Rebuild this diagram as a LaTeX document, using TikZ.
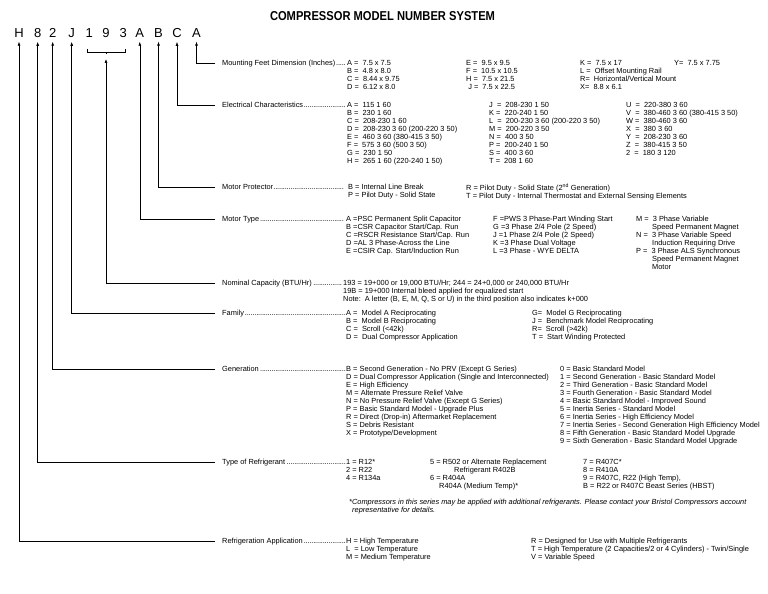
\documentclass[tikz,border=0pt]{standalone}
\usepackage{fontspec}
\setmainfont{Liberation Sans}
\usetikzlibrary{arrows.meta}
\newcommand\mydots{\leaders\hbox to 1.9pt{\hss.\hss}\hfill}
\begin{document}
\begin{tikzpicture}[x=1pt,y=-1pt,
  txt/.style={anchor=north west,yshift=5.6pt,inner sep=0pt,align=left,
    font=\fontsize{7.4}{8}\selectfont,execute at begin node=\strut},
  lab/.style={anchor=base west,inner sep=0pt,font=\fontsize{7.4}{8}\selectfont},
  code/.style={anchor=base,inner sep=0pt,font=\fontsize{13}{13}\selectfont},
  conn/.style={line width=0.6pt,shorten <=7pt,-{Latex[length=4pt,width=3pt]}},
  brace/.style={line width=0.6pt},
  foot/.style={txt,font=\fontsize{7.4}{8}\selectfont\itshape}
]
\useasboundingbox[fill=white] (0,0) rectangle (768,594);

% title
\node[inner sep=0pt] (title) at (382.5,16.5) {\resizebox{225pt}{9pt}{\bfseries COMPRESSOR MODEL NUMBER SYSTEM}};

% code letters
\node[code] (cH) at (19,37.5) {H};
\node[code] (c8) at (37.7,37.5) {8};
\node[code] (c2) at (52.7,37.5) {2};
\node[code] (cJ) at (71.7,37.5) {J};
\node[code] (c1) at (89.3,37.5) {1};
\node[code] (c9) at (106,37.5) {9};
\node[code] (c3) at (123.3,37.5) {3};
\node[code] (cA) at (139.8,37.5) {A};
\node[code] (cB) at (158.5,37.5) {B};
\node[code] (cC) at (177,37.5) {C};
\node[code] (cA2) at (196.5,37.5) {A};

% brace under 1 9 3
\draw[brace] (87,49) -- (87,52.5) -- (125,52.5) -- (125,49);
\draw[brace] (106,52.5) -- (106,54.5);
\coordinate (braceTip) at (106,59);

% ---------- Mounting feet
\node[lab] (labMF) at (222,65.5) {\makebox[124pt][l]{Mounting Feet Dimension (Inches)\mydots}};
\node[txt] (mf1) at (347,65.5) {A =\ \ 7.5 x 7.5\\B =\ \ 4.8 x 8.0\\C =\ \ 8.44 x 9.75\\D =\ \ 6.12 x 8.0};
\node[txt] (mf2) at (466,65.5) {E =\ \ 9.5 x 9.5\\F =\ \ 10.5 x 10.5\\H =\ \ 7.5 x 21.5\\\ J =\ \ 7.5 x 22.5};
\node[txt] (mf3) at (580,65.5) {K =\ \ 7.5 x 17\\L =\ \ Offset Mounting Rail\\R=\ \ Horizontal/Vertical Mount\\X=\ \ 8.8 x 6.1};
\node[txt] (mf4) at (674,65.5) {Y=\ \ 7.5 x 7.75};
\draw[conn] (labMF.west) -| ([yshift=-4pt]cA2.south);

% ---------- Electrical
\node[lab] (labEC) at (222,107.5) {\makebox[124pt][l]{Electrical Characteristics\mydots}};
\node[txt] (ec1) at (347,107.5) {A =\ \ 115 1 60\\B =\ \ 230 1 60\\C =\ \ 208-230 1 60\\D =\ \ 208-230 3 60 (200-220 3 50)\\E =\ \ 460 3 60 (380-415 3 50)\\F =\ \ 575 3 60 (500 3 50)\\G =\ \ 230 1 50\\H =\ \ 265 1 60 (220-240 1 50)};
\node[txt] (ec2) at (489,107.5) {J\ \ =\ \ 208-230 1 50\\K\ =\ \ 220-240 1 50\\L\ \ =\ \ 200-230 3 60 (200-220 3 50)\\M =\ \ 200-220 3 50\\N\ =\ \ 400 3 50\\P\ =\ \ 200-240 1 50\\S\ =\ \ 400 3 60\\T\ =\ \ 208 1 60};
\node[txt] (ec3) at (626,107.5) {U\ \ =\ \ 220-380 3 60\\V\ \ =\ \ 380-460 3 60 (380-415 3 50)\\W\ =\ \ 380-460 3 60\\X\ \ =\ \ 380 3 60\\Y\ \ =\ \ 208-230 3 60\\Z\ \ =\ \ 380-415 3 50\\2\ \ =\ \ 180 3 120};
\draw[conn] (labEC.west) -| ([yshift=-4pt]cC.south);

% ---------- Motor protector
\node[lab] (labMP) at (222,189.5) {\makebox[122pt][l]{Motor Protector\mydots}};
\node[txt] (mp1) at (348,189.5) {B = Internal Line Break\\P = Pilot Duty - Solid State};
\node[txt] (mp2) at (466,189.5) {R = Pilot Duty - Solid State (2\textsuperscript{nd} Generation)\\T = Pilot Duty - Internal Thermostat and External Sensing Elements};
\draw[conn] (labMP.west) -| ([yshift=-4pt]cB.south);

% ---------- Motor type
\node[lab] (labMT) at (222,221.5) {\makebox[123pt][l]{Motor Type\mydots}};
\node[txt] (mt1) at (346,221.5) {A\ =PSC Permanent Split Capacitor\\B\ =CSR Capacitor Start/Cap. Run\\C\ =RSCR Resistance Start/Cap. Run\\D\ =AL 3 Phase-Across the Line\\E\ =CSIR Cap. Start/Induction Run};
\node[txt] (mt2) at (493,221.5) {F\ =PWS 3 Phase-Part Winding Start\\G =3 Phase 2/4 Pole (2 Speed)\\J\ =1 Phase 2/4 Pole (2 Speed)\\K\ =3 Phase Dual Voltage\\L\ =3 Phase - WYE DELTA};
\node[txt] (mt3) at (636,221.5) {M =\ \ 3 Phase Variable\\\hspace*{16pt}Speed Permanent Magnet\\N =\ \ 3 Phase Variable Speed\\\hspace*{16pt}Induction Requiring Drive\\P\ =\ \ 3 Phase ALS Synchronous\\\hspace*{16pt}Speed Permanent Magnet\\\hspace*{16pt}Motor};
\draw[conn] (labMT.west) -| ([yshift=-4pt]cA.south);

% ---------- Nominal capacity
\node[lab] (labNC) at (222,285.5) {\makebox[120pt][l]{Nominal Capacity (BTU/Hr)\mydots}};
\node[txt] (nc1) at (343,285.5) {193 = 19+000 or 19,000 BTU/Hr; 244 = 24+0,000 or 240,000 BTU/Hr\\19B = 19+000 Internal bleed applied for equalized start\\Note:\ \ A letter (B, E, M, Q, S or U) in the third position also indicates k+000};
\draw[conn] (labNC.west) -| (braceTip);

% ---------- Family
\node[lab] (labFA) at (222,315.5) {\makebox[124pt][l]{Family\mydots}};
\node[txt] (fa1) at (346,315.5) {A =\ \ Model A Reciprocating\\B =\ \ Model B Reciprocating\\C =\ \ Scroll (<42k)\\D =\ \ Dual Compressor Application};
\node[txt] (fa2) at (532,315.5) {G=\ \ Model G Reciprocating\\J =\ \ Benchmark Model Reciprocating\\R=\ \ Scroll (>42k)\\T =\ \ Start Winding Protected};
\draw[conn] (labFA.west) -| ([yshift=-4pt]cJ.south);

% ---------- Generation
\node[lab] (labGE) at (222,371.5) {\makebox[124pt][l]{Generation\mydots}};
\node[txt] (ge1) at (346,371.5) {B = Second Generation - No PRV (Except G Series)\\D = Dual Compressor Application (Single and Interconnected)\\E = High Efficiency\\M = Alternate Pressure Relief Valve\\N = No Pressure Relief Valve (Except G Series)\\P = Basic Standard Model - Upgrade Plus\\R = Direct (Drop-in) Aftermarket Replacement\\S = Debris Resistant\\X = Prototype/Development};
\node[txt] (ge2) at (560,371.5) {0 = Basic Standard Model\\1 = Second Generation - Basic Standard Model\\2 = Third Generation - Basic Standard Model\\3 = Fourth Generation - Basic Standard Model\\4 = Basic Standard Model - Improved Sound\\5 = Inertia Series - Standard Model\\6 = Inertia Series - High Efficiency Model\\7 = Inertia Series - Second Generation High Efficiency Model\\8 = Fifth Generation - Basic Standard Model Upgrade\\9 = Sixth Generation - Basic Standard Model Upgrade};
\draw[conn] (labGE.west) -| ([yshift=-4pt]c2.south);

% ---------- Type of refrigerant
\node[lab] (labTR) at (222,464.5) {\makebox[124pt][l]{Type of Refrigerant\mydots}};
\node[txt] (tr1) at (346,464.5) {1 = R12*\\2 = R22\\4 = R134a};
\node[txt] (tr2) at (430,464.5) {5 = R502 or Alternate Replacement\\\hspace*{24pt}Refrigerant R402B\\6 = R404A\\\hspace*{9pt}R404A (Medium Temp)*};
\node[txt] (tr3) at (583,464.5) {7 = R407C*\\8 = R410A\\9 = R407C, R22 (High Temp),\\B = R22 or R407C Beast Series (HBST)};
\node[foot] (trf) at (349,504.5) {*Compressors in this series may be applied with additional refrigerants. Please contact your Bristol Compressors account\\\hspace*{3pt}representative for details.};
\draw[conn] (labTR.west) -| ([yshift=-4pt]c8.south);

% ---------- Refrigeration application
\node[lab] (labRA) at (222,543.5) {\makebox[124pt][l]{Refrigeration Application\mydots}};
\node[txt] (ra1) at (346,543.5) {H = High Temperature\\L\ \ = Low Temperature\\M = Medium Temperature};
\node[txt] (ra2) at (531,543.5) {R = Designed for Use with Multiple Refrigerants\\T = High Temperature (2 Capacities/2 or 4 Cylinders) - Twin/Single\\V = Variable Speed};
\draw[conn] (labRA.west) -| ([yshift=-4pt]cH.south);

\end{tikzpicture}
\end{document}
